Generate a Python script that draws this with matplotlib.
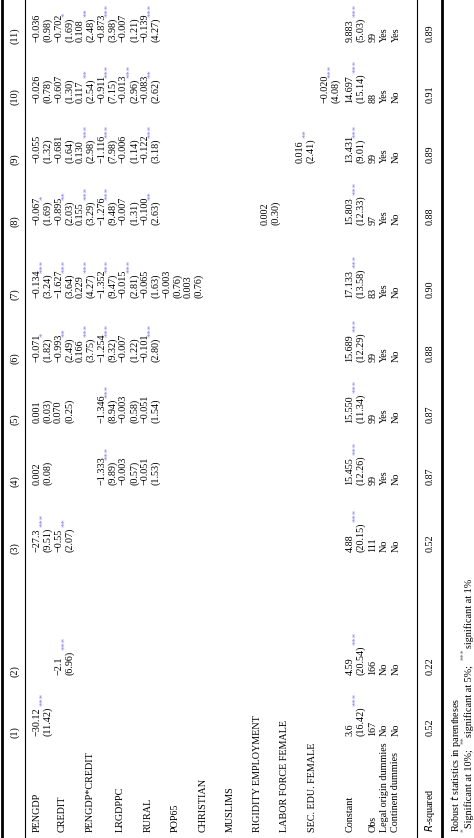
import matplotlib
matplotlib.use("Agg")
import matplotlib.pyplot as plt

# ==================== DADOS ====================
variaveis = ["PENGDP", "CREDIT", "PENGDP*CREDIT", "LRGDPPC", "RURAL", "POP65",
             "CHRISTIAN", "MUSLIMS", "RIGIDITY EMPLOYMENT", "LABOR FORCE FEMALE",
             "SEC. EDU. FEMALE", "Constant"]
colunas = ["(1)", "(2)", "(3)", "(4)", "(5)", "(6)", "(7)", "(8)", "(9)", "(10)", "(11)"]

# cada coluna: {variavel: (coef, t, estrelas)}
col1 = {"PENGDP": ("\u221230.12", "(11.42)", 3), "Constant": ("3.6", "(16.42)", 3)}
col2 = {"CREDIT": ("\u22122.1", "(6.96)", 3), "Constant": ("4.59", "(20.54)", 3)}
col3 = {"PENGDP": ("\u221227.3", "(9.51)", 3), "CREDIT": ("\u22120.55", "(2.07)", 2),
        "Constant": ("4.88", "(20.15)", 3)}
col4 = {"PENGDP": ("0.002", "(0.08)", 0), "LRGDPPC": ("\u22121.333", "(9.89)", 3),
        "RURAL": ("\u22120.003", "(0.57)", 0), "POP65": ("\u22120.051", "(1.53)", 0),
        "Constant": ("15.455", "(12.26)", 3)}
col5 = {"PENGDP": ("0.001", "(0.03)", 0), "CREDIT": ("0.070", "(0.25)", 0),
        "LRGDPPC": ("\u22121.346", "(8.94)", 3), "RURAL": ("\u22120.003", "(0.58)", 0),
        "POP65": ("\u22120.051", "(1.54)", 0), "Constant": ("15.550", "(11.34)", 3)}
col6 = {"PENGDP": ("\u22120.071", "(1.82)", 1), "CREDIT": ("\u22120.993", "(2.49)", 2),
        "PENGDP*CREDIT": ("0.166", "(3.75)", 3), "LRGDPPC": ("\u22121.254", "(9.32)", 3),
        "RURAL": ("\u22120.007", "(1.22)", 0), "POP65": ("\u22120.101", "(2.80)", 3),
        "Constant": ("15.689", "(12.29)", 3)}
col7 = {"PENGDP": ("\u22120.134", "(3.24)", 3), "CREDIT": ("\u22121.627", "(3.64)", 3),
        "PENGDP*CREDIT": ("0.229", "(4.27)", 3), "LRGDPPC": ("\u22121.352", "(9.47)", 3),
        "RURAL": ("\u22120.015", "(2.81)", 3), "POP65": ("\u22120.065", "(1.63)", 0),
        "CHRISTIAN": ("\u22120.003", "(0.76)", 0), "MUSLIMS": ("0.003", "(0.76)", 0),
        "Constant": ("17.133", "(13.58)", 3)}
col8 = {"PENGDP": ("\u22120.067", "(1.69)", 1), "CREDIT": ("\u22120.895", "(2.03)", 2),
        "PENGDP*CREDIT": ("0.155", "(3.29)", 3), "LRGDPPC": ("\u22121.276", "(9.48)", 3),
        "RURAL": ("\u22120.007", "(1.31)", 0), "POP65": ("\u22120.100", "(2.63)", 2),
        "RIGIDITY EMPLOYMENT": ("0.002", "(0.30)", 0), "Constant": ("15.803", "(12.33)", 3)}
col9 = {"PENGDP": ("\u22120.055", "(1.32)", 0), "CREDIT": ("\u22120.681", "(1.64)", 0),
        "PENGDP*CREDIT": ("0.130", "(2.98)", 3), "LRGDPPC": ("\u22121.116", "(7.98)", 3),
        "RURAL": ("\u22120.006", "(1.14)", 0), "POP65": ("\u22120.122", "(3.18)", 3),
        "LABOR FORCE FEMALE": ("0.016", "(2.41)", 2), "Constant": ("13.431", "(9.01)", 3)}
col10 = {"PENGDP": ("\u22120.026", "(0.78)", 0), "CREDIT": ("\u22120.607", "(1.30)", 0),
         "PENGDP*CREDIT": ("0.117", "(2.54)", 2), "LRGDPPC": ("\u22120.911", "(7.15)", 3),
         "RURAL": ("\u22120.013", "(2.96)", 3), "POP65": ("\u22120.083", "(2.62)", 2),
         "SEC. EDU. FEMALE": ("\u22120.020", "(4.08)", 3), "Constant": ("14.697", "(15.14)", 3)}
col11 = {"PENGDP": ("\u22120.036", "(0.98)", 0), "CREDIT": ("\u22120.702", "(1.69)", 1),
         "PENGDP*CREDIT": ("0.108", "(2.48)", 2), "LRGDPPC": ("\u22120.873", "(3.98)", 3),
         "RURAL": ("\u22120.007", "(1.21)", 0), "POP65": ("\u22120.139", "(4.27)", 3),
         "Constant": ("9.883", "(5.03)", 3)}
dados_colunas = [col1, col2, col3, col4, col5, col6, col7, col8, col9, col10, col11]

obs = ["167", "166", "111", "99", "99", "99", "83", "97", "99", "88", "99"]
legal = ["No", "No", "No", "Yes", "Yes", "Yes", "Yes", "Yes", "Yes", "Yes", "Yes"]
continente = ["No", "No", "No", "No", "No", "No", "No", "No", "No", "No", "Yes"]
r2 = ["0.52", "0.22", "0.52", "0.87", "0.87", "0.88", "0.90", "0.88", "0.89", "0.91", "0.89"]

# ==================== LAYOUT ====================
W, H = 474, 838
FONTE = "Liberation Serif"
FS = 7.3
AZUL = "#7f7fe6"
CINZA = "#666666"

linha_coef = {"PENGDP": 37, "CREDIT": 58.6, "PENGDP*CREDIT": 80.2, "LRGDPPC": 101.8,
              "RURAL": 123.4, "POP65": 145, "CHRISTIAN": 166.6, "MUSLIMS": 188.2,
              "RIGIDITY EMPLOYMENT": 265, "LABOR FORCE FEMALE": 300,
              "SEC. EDU. FEMALE": 325, "Constant": 350}
linha_rotulo = {"PENGDP": 37, "CREDIT": 62, "PENGDP*CREDIT": 90, "LRGDPPC": 120,
                "RURAL": 148, "POP65": 175, "CHRISTIAN": 203, "MUSLIMS": 230,
                "RIGIDITY EMPLOYMENT": 258, "LABOR FORCE FEMALE": 285,
                "SEC. EDU. FEMALE": 313, "Constant": 350}
inicio_col = [736, 675, 552, 485, 423, 362, 298, 225, 163, 103, 42]
X_OBS, X_LEGAL, X_CONT, X_R2 = 373, 384.5, 396, 430

fig = plt.figure(figsize=(W / 100, H / 100), dpi=100)
ax = fig.add_axes([0, 0, 1, 1])
ax.set_xlim(0, W)
ax.set_ylim(H, 0)
ax.axis("off")


def texto(x, y, s, cor="black", tam=FS, **kw):
    return ax.text(x, y, s, rotation=90, rotation_mode="anchor", ha="left", va="center",
                   fontsize=tam, family=FONTE, color=cor, **kw)


estrelas = []
for j, col in enumerate(dados_colunas):
    y0 = inicio_col[j]
    texto(15, y0 + 2, colunas[j])
    for var, (coef, t, n) in col.items():
        x = linha_coef[var]
        texto(x, y0, coef)
        tt = texto(x + 10.8, y0, t)
        if n:
            estrelas.append((tt, x + 10.8, "*" * n, AZUL))
    texto(X_OBS, y0, obs[j])
    texto(X_LEGAL, y0, legal[j])
    texto(X_CONT, y0, continente[j])
    texto(X_R2, y0, r2[j])

for var in variaveis:
    texto(linha_rotulo[var], 832, var)
texto(X_OBS, 832, "Obs")
texto(X_LEGAL, 832, "Legal origin dummies")
texto(X_CONT, 832, "Continent dummies")
texto(X_R2, 832, "$R$-squared")
texto(456, 832, "Robust $t$ statistics in parentheses")

# rodapé: estrelas cinzas em sobrescrito
fig.canvas.draw()
inv = ax.transData.inverted()
y = 832
for parte, n in [("Significant at 10%;  ", 1), ("significant at 5%;  ", 2),
                 ("significant at 1%", 3)]:
    est = texto(465, y, "*" * n, cor=CINZA, tam=5.5)
    fig.canvas.draw()
    _, y = inv.transform((0, est.get_window_extent().y1))
    t = texto(469, y, parte)
    fig.canvas.draw()
    _, y = inv.transform((0, t.get_window_extent().y1))

# estrelas em sobrescrito, depois do texto
for tt, x, s, cor in estrelas:
    bb = tt.get_window_extent()
    _, ytopo = inv.transform((bb.x0, bb.y1))
    texto(x - 4, ytopo - 0.5, s, cor=cor, tam=6.3)

# fios da tabela
for xl, lw in [(2, 2.0), (25, 0.8), (417, 0.8), (442, 2.0)]:
    ax.plot([xl, xl], [0, H], color="black", lw=lw)

fig.savefig("out.png", dpi=100)
